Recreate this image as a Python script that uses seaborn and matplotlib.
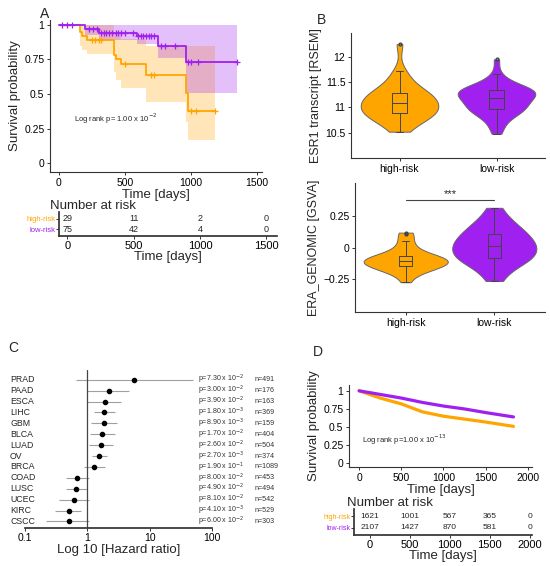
import numpy as np
import pandas as pd
import matplotlib
matplotlib.use("Agg")
import matplotlib.pyplot as plt
import seaborn as sns

ORANGE = "#FFA500"
PURPLE = "#A020F0"
GROUPS = ["high-risk", "low-risk"]

# ---- panel A: Kaplan-Meier (steps) ----
a_high_t = [0, 160, 175, 210, 420, 435, 470, 660, 960, 980]
a_high_s = [1.0, 0.95, 0.92, 0.89, 0.78, 0.75, 0.72, 0.64, 0.51, 0.38]
a_high_lo = [1.0, 0.85, 0.82, 0.79, 0.66, 0.60, 0.54, 0.44, 0.30, 0.17]
a_high_hi = [1.0, 1.0, 1.0, 1.0, 0.95, 0.93, 0.90, 0.85, 0.85, 0.85]
a_high_end = 1180
a_high_cens = [250, 270, 300, 320, 500, 700, 720, 1000, 1040, 1180]
a_low_t = [0, 200, 300, 590, 750, 960]
a_low_s = [1.0, 0.97, 0.94, 0.92, 0.85, 0.73]
a_low_lo = [1.0, 0.93, 0.89, 0.86, 0.76, 0.51]
a_low_hi = [1.0, 1.0, 1.0, 1.0, 1.0, 1.0]
a_low_end = 1350
a_low_cens = [20, 60, 100, 230, 260, 290, 320, 340, 360, 380, 400, 430, 450, 470, 500,
              560, 600, 620, 640, 660, 680, 700, 720, 770, 800, 880, 980, 1000, 1050, 1350]
a_risk_times = [0, 500, 1000, 1500]
a_risk_high = [29, 11, 2, 0]
a_risk_low = [75, 42, 4, 0]

# ---- panel B: violin samples (estimated from shapes) ----
esr1_high = [10.52, 10.6, 10.7, 10.75, 10.8, 10.82, 10.85, 10.88, 10.9, 10.92, 10.95, 10.98,
             11.0, 11.05, 11.08, 11.1, 11.12, 11.15, 11.2, 11.22, 11.25, 11.28, 11.3, 11.35,
             11.4, 11.5, 11.6, 11.72, 12.25]
esr1_low = [10.48, 10.6, 10.7, 10.78, 10.85, 10.88, 10.9, 10.92, 10.95, 10.98, 11.0, 11.02,
            11.05, 11.08, 11.1, 11.12, 11.15, 11.18, 11.2, 11.22, 11.25, 11.27, 11.28, 11.3,
            11.3, 11.32, 11.33, 11.35, 11.36, 11.38, 11.4, 11.42, 11.45, 11.55, 11.65, 11.95]
era_high = [-0.28, -0.22, -0.2, -0.18, -0.17, -0.16, -0.155, -0.15, -0.14, -0.13, -0.12,
            -0.12, -0.11, -0.11, -0.1, -0.1, -0.09, -0.08, -0.075, -0.07, -0.06, -0.04,
            -0.02, 0.02, 0.05, 0.11, 0.12]
era_low = [-0.27, -0.2, -0.15, -0.12, -0.1, -0.09, -0.08, -0.06, -0.04, -0.02, 0.0, 0.01,
           0.02, 0.04, 0.06, 0.08, 0.1, 0.12, 0.14, 0.17, 0.2, 0.24, 0.32]

# ---- panel C: hazard ratios ----
c_cancers = ["PRAD", "PAAD", "ESCA", "LIHC", "GBM", "BLCA", "LUAD", "OV", "BRCA",
             "COAD", "LUSC", "UCEC", "KIRC", "CSCC"]
c_hr = [5.7, 2.2, 1.9, 1.85, 1.85, 1.75, 1.65, 1.55, 1.3, 0.68, 0.66, 0.62, 0.5, 0.5]
c_lo = [0.65, 1.0, 1.0, 1.3, 1.15, 1.1, 1.05, 1.2, 0.88, 0.45, 0.45, 0.35, 0.3, 0.22]
c_hi = [50, 4.6, 3.5, 2.8, 3.0, 2.8, 2.6, 2.05, 1.95, 1.05, 1.0, 1.05, 0.8, 1.05]
c_pmant = ["7.30", "3.00", "3.90", "1.80", "8.90", "1.70", "2.60", "2.70", "1.90",
           "8.00", "4.90", "8.10", "4.10", "6.00"]
c_pexp = [-2, -2, -2, -3, -3, -2, -2, -3, -1, -2, -2, -2, -3, -2]
c_n = [491, 176, 163, 369, 159, 404, 504, 374, 1089, 453, 494, 542, 529, 303]

# ---- panel D: pan-cancer KM ----
d_t = [0, 250, 500, 750, 1000, 1250, 1500, 1830]
d_high = [1.0, 0.9, 0.82, 0.71, 0.65, 0.61, 0.57, 0.51]
d_low = [1.0, 0.95, 0.9, 0.84, 0.79, 0.75, 0.70, 0.64]
d_risk_times = [0, 500, 1000, 1500, 2000]
d_risk_high = [1621, 1001, 567, 365, 0]
d_risk_low = [2107, 1427, 870, 581, 0]

sns.set_theme(style="ticks")
plt.rcParams["font.family"] = ["Liberation Sans", "DejaVu Sans"]
plt.rcParams["axes.edgecolor"] = "#333333"
plt.rcParams["xtick.color"] = "#333333"
plt.rcParams["ytick.color"] = "#333333"
plt.rcParams["xtick.labelcolor"] = "black"
plt.rcParams["ytick.labelcolor"] = "black"

W, H = 550, 566
fig = plt.figure(figsize=(W / 100, H / 100), dpi=100)


def ax_px(l, t, r, b):
    return fig.add_axes([l / W, 1 - b / H, (r - l) / W, (b - t) / H])


def style(ax, fs=7):
    sns.despine(ax=ax)
    ax.tick_params(labelsize=fs, length=2.5, width=0.7, pad=1.5)
    for s in ["left", "bottom"]:
        ax.spines[s].set_linewidth(0.8)


def km(ax, t, s, end, color, lo=None, hi=None, cens=None, lw=1.3):
    tt = list(t) + [end]
    ss = list(s) + [s[-1]]
    if lo is not None:
        ax.fill_between(tt, list(lo) + [lo[-1]], list(hi) + [hi[-1]], step="post",
                        color=color, alpha=0.28, lw=0)
    ax.step(tt, ss, where="post", color=color, lw=lw)
    if cens is not None:
        idx = np.searchsorted(t, cens, side="right") - 1
        ax.plot(cens, np.array(s)[idx], "+", color=color, ms=5, mew=0.9)


def risk_table(ax, times, high, low, xlim, fs=6.5, lfs=5.5):
    sns.despine(ax=ax)
    ax.set_xlim(*xlim)
    ax.set_ylim(0.4, 2.6)
    for x, h, l in zip(times, high, low):
        ax.text(x, 2, str(h), fontsize=fs, ha="center", va="center")
        ax.text(x, 1, str(l), fontsize=fs, ha="center", va="center")
    ax.set_yticks([2, 1])
    ax.set_yticklabels(GROUPS, fontsize=lfs)
    ax.get_yticklabels()[0].set_color(ORANGE)
    ax.get_yticklabels()[1].set_color(PURPLE)
    ax.set_xticks(times)
    ax.tick_params(axis="x", labelsize=8, length=2.5, width=0.7, pad=1)
    ax.tick_params(axis="y", length=2, width=0.7, pad=0.5)
    ax.set_xlabel("Time [days]", fontsize=9.5, labelpad=0)
    ax.set_title("Number at risk", fontsize=9.5, loc="left", pad=1, x=-0.04)


# ---------- A ----------
ax = ax_px(50, 20, 262, 172)
km(ax, a_high_t, a_high_s, a_high_end, ORANGE, a_high_lo, a_high_hi, a_high_cens)
km(ax, a_low_t, a_low_s, a_low_end, PURPLE, a_low_lo, a_low_hi, a_low_cens)
ax.set_xlim(-68, 1538)
ax.set_ylim(-0.065, 1.036)
ax.set_xticks([0, 500, 1000, 1500])
ax.set_yticks([0, 0.25, 0.5, 0.75, 1])
ax.set_yticklabels(["0", "0.25", "0.5", "0.75", "1"])
style(ax, 7.5)
ax.set_xlabel("Time [days]", fontsize=9.5, labelpad=1)
ax.set_ylabel("Survival probability", fontsize=9.5, labelpad=2)
ax.text(115, 0.3, r"Log rank p= 1.00 x 10$^{-2}$", fontsize=5.5)

ax = ax_px(59, 212, 277, 236)
risk_table(ax, a_risk_times, a_risk_high, a_risk_low, (-64, 1580))

# ---------- B ----------
df_esr = pd.DataFrame({"g": ["high-risk"] * len(esr1_high) + ["low-risk"] * len(esr1_low),
                       "v": esr1_high + esr1_low})
df_era = pd.DataFrame({"g": ["high-risk"] * len(era_high) + ["low-risk"] * len(era_low),
                       "v": era_high + era_low})
pal = {"high-risk": ORANGE, "low-risk": PURPLE}
for (l, t, r, b), df, ylim, ticks, tl, lab, vw in [
        ((351, 33, 545, 158), df_esr, (10.0, 12.47), [10.5, 11, 11.5, 12],
         ["10.5", "11", "11.5", "12"], "ESR1 transcript [RSEM]", 0.8),
        ((355, 183, 545, 312), df_era, (-0.52, 0.52), [-0.25, 0, 0.25],
         ["\u22120.25", "0", "0.25"], "ERA_GENOMIC [GSVA]", 0.95)]:
    ax = ax_px(l, t, r, b)
    sns.violinplot(data=df, x="g", y="v", hue="g", palette=pal, cut=0, inner=None,
                   linewidth=0.7, linecolor="#666666", density_norm="width",
                   width=vw, saturation=1, legend=False, bw_adjust=0.9, ax=ax)
    sns.boxplot(data=df, x="g", y="v", width=0.15, fill=False, color="#444444",
                linewidth=0.7, fliersize=2, ax=ax)
    ax.set_ylim(*ylim)
    ax.set_yticks(ticks)
    ax.set_yticklabels(tl)
    style(ax, 7.5)
    ax.set_xlabel("")
    ax.set_ylabel(lab, fontsize=9, labelpad=2)
    ax.tick_params(axis="x", labelsize=7.5)
ax.plot([0, 1], [0.38, 0.38], color="#444444", lw=0.8)
ax.text(0.5, 0.39, "***", ha="center", va="bottom", fontsize=8)

# ---------- C ----------
ax = ax_px(25, 370, 212, 528)
ypos = np.arange(len(c_cancers))[::-1]
ax.set_xscale("log")
ax.set_xlim(0.1, 100)
ax.set_ylim(-0.6, len(c_cancers) - 0.1)
ax.hlines(ypos, c_lo, c_hi, color="#a0a0a0", lw=0.8)
ax.scatter(c_hr, ypos, color="black", s=9, zorder=3)
ax.axvline(1, color="#444444", lw=0.9)
for y, name, pm, pe, n in zip(ypos, c_cancers, c_pmant, c_pexp, c_n):
    ax.text(-0.08, y, name, transform=ax.get_yaxis_transform(), fontsize=6.3,
            va="center", ha="left", clip_on=False)
    ax.text(0.925, y, r"p=%s x 10$^{%d}$" % (pm, pe), transform=ax.get_yaxis_transform(),
            fontsize=5.1, va="center", ha="left", clip_on=False, color="#333333")
    ax.text(1.23, y, "n=%d" % n, transform=ax.get_yaxis_transform(),
            fontsize=5.1, va="center", ha="left", clip_on=False, color="#333333")
sns.despine(ax=ax, left=True)
ax.set_yticks([])
ax.set_xticks([0.1, 1, 10, 100])
ax.set_xticklabels(["0.1", "1", "10", "100"])
ax.minorticks_off()
ax.tick_params(axis="x", labelsize=7.5, length=2.5, width=0.7, pad=1)
ax.set_xlabel("Log 10 [Hazard ratio]", fontsize=9.5, labelpad=1)

# ---------- D ----------
ax = ax_px(349, 385, 532, 467)
ax.plot(d_t, d_high, color=ORANGE, lw=2.3)
ax.plot(d_t, d_low, color=PURPLE, lw=2.3)
ax.set_xlim(-120, 2050)
ax.set_ylim(-0.05, 1.08)
ax.set_xticks([0, 500, 1000, 1500, 2000])
ax.set_yticks([0, 0.25, 0.5, 0.75, 1])
ax.set_yticklabels(["0", "0.25", "0.5", "0.75", "1"])
style(ax, 7.5)
ax.set_xlabel("Time [days]", fontsize=9.5, labelpad=1)
ax.set_ylabel("Survival probability", fontsize=9.5, labelpad=2)
ax.text(30, 0.28, r"Log rank p=1.00 x 10$^{-13}$", fontsize=5.5)

ax = ax_px(354, 509, 532, 535)
risk_table(ax, d_risk_times, d_risk_high, d_risk_low, (-200, 2030), fs=6, lfs=5)

for lbl, x, y in [("A", 40, 14), ("B", 317, 20), ("C", 8, 348), ("D", 313, 352)]:
    fig.text(x / W, 1 - y / H, lbl, fontsize=10, va="center")

fig.savefig("out.png", dpi=100)
